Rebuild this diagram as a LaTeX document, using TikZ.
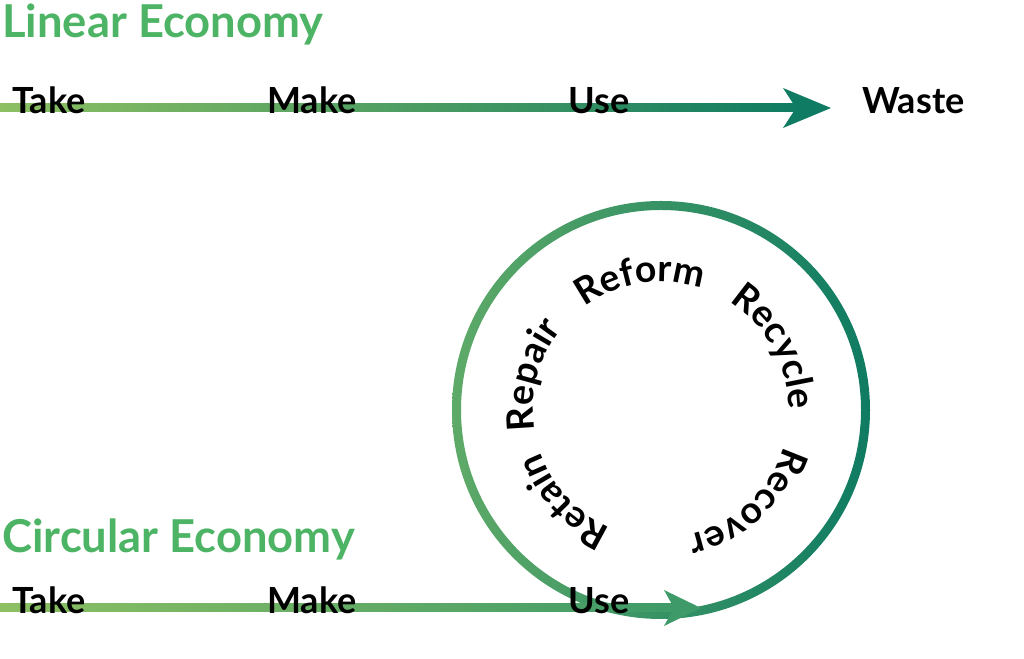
\documentclass[tikz,border=0pt]{standalone}
\usepackage{fontspec}
\setmainfont{Lato}
\usetikzlibrary{decorations.text}
\definecolor{lgreen}{HTML}{8DC063}
\definecolor{dgreen}{HTML}{0F7B62}
\definecolor{mgreen}{HTML}{3E9A68}
\definecolor{cgreen}{HTML}{5EAA68}
\definecolor{tgreen}{HTML}{4CB464}
\newcommand{\circfont}{\fontsize{28}{30}\selectfont\bfseries}
\tikzset{
  title/.style={anchor=base west, inner sep=0pt, text=tgreen, font=\fontsize{34}{36}\selectfont\bfseries},
  lbl/.style={anchor=base west, inner sep=0pt, font=\fontsize{27}{30}\selectfont\bfseries},
  circtext/.style={decorate, decoration={text along path, text align=center, text={|\circfont|#1}}}
}
\begin{document}
\begin{tikzpicture}[x=0.75pt,y=0.75pt]
\useasboundingbox (0,0) rectangle (1024,659);
% linear
\shade[left color=lgreen, right color=dgreen] (0,547) rectangle (800,555);
\fill[dgreen] (831,551) -- (783,571) -- (796,551) -- (783,531) -- cycle;
\node[title] (lin) at (2,621) {Linear Economy};
\node[lbl] (t1) at (12,545) {Take};
\node[lbl] (m1) at (267,545) {Make};
\node[lbl] (u1) at (568,545) {Use};
\node[lbl] (w1) at (862,545) {Waste};
% circle
\coordinate (c) at (661,249);
\shade[left color=cgreen, right color=dgreen, even odd rule] (c) circle (209) (c) circle (200);
% circular line
\shade[left color=lgreen, right color=mgreen] (0,47) rectangle (680,55);
\fill[mgreen] (701,51) -- (664,69) -- (674,51) -- (664,33) -- cycle;
\node[title] (circ) at (2,106) {Circular Economy};
\node[lbl] (t2) at (12,45) {Take};
\node[lbl] (m2) at (267,45) {Make};
\node[lbl] (u2) at (568,45) {Use};
% words around circle
\path[circtext=Reform] (c) ++(144:128) arc[start angle=144, end angle=54, radius=128];
\path[circtext=Repair] (c) ++(210:128) arc[start angle=210, end angle=120, radius=128];
\path[circtext=Recycle] (c) ++(74:128) arc[start angle=74, end angle=-16, radius=128];
\path[circtext=Recover] (c) ++(-2:128) arc[start angle=-2, end angle=-92, radius=128];
\path[circtext=Retain] (c) ++(-92:128) arc[start angle=-92, end angle=-182, radius=128];
\end{tikzpicture}
\end{document}
